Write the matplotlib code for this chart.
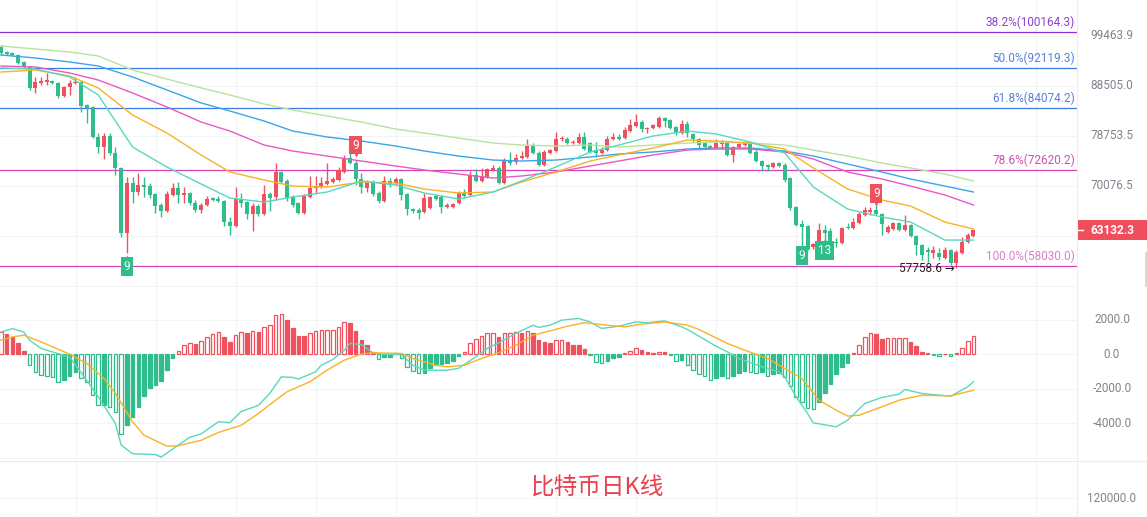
import numpy as np
import matplotlib.pyplot as plt
import matplotlib.ticker as mticker
from matplotlib.patches import Rectangle
from matplotlib.lines import Line2D
from matplotlib.transforms import blended_transform_factory, offset_copy

plt.rcParams['font.family'] = ['Roboto', 'DejaVu Sans']

# ---- daily candles, oldest first ----
opens = [96900, 95710, 95490, 95040, 93500, 92420, 88000, 89030, 89240, 89450,
         89030, 86370, 88200, 89030, 89240, 84570, 84180, 78490, 76680, 78670,
         75610, 73010, 62730, 70490, 69030, 70170, 70000, 68710, 66970, 66030,
         68550, 69680, 68550, 68870, 67280, 66190, 66970, 68070, 67910, 67590,
         64360, 63760, 67910, 67440, 65570, 66810, 65570, 68710, 68230, 72330,
         70820, 68230, 67280, 65730, 68230, 69680, 69840, 70330, 70660, 70990,
         72330, 74730, 73860, 71160, 69680, 70490, 68870, 67590, 70820, 70490,
         71160, 68710, 66340, 66190, 65880, 66500, 68390, 68230, 66650, 66650,
         67280, 68870, 68550, 71820, 70820, 71490, 72670, 73010, 70490, 74380,
         74030, 74730, 74910, 76850, 75610, 73520, 75610, 75960, 78120, 78120,
         77390, 77390, 78490, 77390, 76140, 75610, 76140, 78120, 78490, 78300,
         79590, 80530, 81280, 79960, 80150, 80340, 82040, 81660, 80340, 79220,
         80900, 79040, 78120, 77390, 76850, 76500, 77210, 77390, 75260, 76670,
         77030, 77390, 75790, 74210, 73520, 73180, 73860, 73520, 71320, 66650,
         64060, 63760, 60720, 60720, 63170, 63020, 61430, 61280, 63620, 63470,
         64210, 65420, 65880, 66190, 65570, 62880, 63320, 64210, 63170, 63910,
         62290, 61000, 60290, 59870, 59870, 59180, 60290, 58490, 59870, 61430,
         62290]
highs = [97280, 95930, 95710, 95260, 93720, 92630, 90290, 90290, 91130, 89650,
         89240, 88410, 89650, 90290, 89450, 84770, 84370, 79220, 79220, 79220,
         76680, 73180, 71490, 71490, 72160, 71490, 70490, 68870, 67280, 69190,
         70490, 70660, 69840, 69030, 67750, 67280, 68390, 68230, 68390, 67750,
         65120, 69840, 68870, 67590, 67280, 67120, 70170, 69030, 73860, 72500,
         71160, 68550, 67440, 68710, 71660, 71660, 71490, 73860, 71490, 73180,
         75260, 75790, 74380, 72160, 70990, 70990, 69190, 71660, 71320, 71490,
         71320, 68870, 66500, 66500, 68870, 68390, 68710, 68550, 67280, 67280,
         69190, 69510, 72500, 72830, 73010, 73010, 73520, 73350, 74730, 75790,
         75430, 75960, 78120, 77390, 75960, 76140, 76320, 79410, 78670, 78490,
         77940, 79220, 79410, 77570, 77570, 76670, 78670, 79220, 79040, 80340,
         81850, 82810, 81660, 80340, 80900, 82430, 82240, 81850, 80530, 81660,
         81470, 79220, 78300, 77570, 77030, 78120, 77940, 77570, 76850, 77390,
         77570, 77570, 76140, 74380, 73690, 74030, 74030, 73860, 71490, 66810,
         64660, 63910, 61280, 64210, 63910, 63460, 62000, 63620, 64210, 64960,
         65880, 66650, 66650, 66970, 65730, 63910, 64360, 64360, 65420, 64060,
         62440, 61140, 60720, 60860, 60570, 60720, 60430, 60290, 62150, 62730,
         63320]
lows = [95040, 95040, 94820, 93070, 92200, 87590, 86980, 88610, 88610, 88820,
        85970, 86170, 86570, 88820, 83200, 81090, 78300, 75610, 74560, 75260,
        71820, 62150, 59870, 67280, 68550, 68230, 68070, 65730, 65120, 65880,
        68390, 67280, 67280, 66970, 65880, 65730, 66810, 67590, 67440, 63760,
        62440, 63620, 66650, 64810, 63020, 65270, 65420, 66030, 67750, 70490,
        67590, 66650, 65570, 65570, 68070, 68870, 69680, 70170, 70490, 70820,
        72160, 73690, 70170, 68870, 69030, 68390, 67280, 67440, 69840, 70170,
        67750, 65420, 65730, 64810, 65730, 66340, 67750, 65730, 66500, 66500,
        67120, 68070, 68390, 70660, 70660, 71320, 72500, 70330, 70330, 73520,
        73690, 74560, 74730, 75430, 73350, 73350, 75430, 75790, 77760, 77210,
        77210, 77210, 76140, 75610, 74910, 75430, 75960, 77940, 77940, 78120,
        79410, 80340, 79410, 79220, 79960, 80150, 80340, 80000, 78850, 79040,
        78490, 77570, 76320, 76320, 76320, 76320, 76320, 75080, 74030, 76500,
        76850, 75430, 74030, 72500, 72500, 73010, 73180, 70660, 66190, 63760,
        60990, 60290, 60430, 60570, 61710, 61000, 60720, 61140, 63320, 63320,
        64060, 65270, 65420, 65420, 62440, 62730, 63170, 63020, 63020, 62150,
        59590, 58900, 58630, 59180, 58900, 59040, 58220, 57758.6, 59730, 61280,
        62150]
closes = [95420, 95260, 95040, 93280, 92420, 88000, 89240, 89450, 89650, 89030,
          86370, 88200, 89030, 89240, 84370, 83980, 78490, 76680, 78670, 75610,
          73010, 62730, 70490, 69030, 70170, 69840, 68550, 66810, 66030, 68710,
          69680, 68550, 68870, 67280, 66190, 66970, 67910, 67750, 67590, 64360,
          63760, 67910, 67280, 65570, 66810, 65570, 68710, 68070, 72330, 70660,
          68070, 66970, 65730, 68390, 69680, 70000, 70490, 70820, 71160, 72670,
          74730, 73860, 71160, 69840, 70490, 68710, 67590, 70820, 70170, 71160,
          68550, 66340, 66030, 65730, 68070, 68230, 67910, 66650, 66970, 67120,
          68870, 68390, 71820, 70820, 71660, 72840, 73010, 70490, 74380, 73860,
          74730, 75080, 76850, 75610, 73520, 75790, 76140, 78120, 78300, 77390,
          77570, 78490, 76320, 75790, 75610, 76140, 78120, 78490, 78120, 79780,
          80710, 81280, 79960, 80150, 80710, 82040, 81470, 80150, 79220, 80900,
          79220, 78120, 77030, 76670, 76500, 77390, 77390, 75260, 76670, 77210,
          77390, 75610, 74210, 73350, 73180, 73860, 73350, 70990, 66500, 63910,
          63620, 60430, 61140, 63170, 62730, 61430, 61280, 63470, 63470, 64360,
          65570, 66190, 66190, 65570, 64060, 63620, 64210, 63170, 63910, 62290,
          61000, 59590, 60010, 60290, 59320, 60290, 58490, 60010, 61430, 62440,
          63132.3]

ma_idx = [0, 6, 12, 17, 23, 29, 35, 40, 46, 51, 57, 63, 69, 74, 80, 86, 91, 97,
          103, 108, 114, 120, 125, 131, 137, 142, 148, 154, 159, 165, 170]
ma_teal = [92200, 91990, 90290, 86570, 76670, 73180, 70330, 68070, 67440, 68230,
           69030, 70820, 70170, 68870, 67910, 69030, 70820, 73180, 75790, 77030,
           78670, 79590, 79040, 77570, 75610, 69840, 66340, 65120, 64360, 61710, 61710]
ma_orange = [91340, 91770, 90500, 88000, 82620, 79220, 75260, 72330, 70990, 70000,
             69840, 70660, 70490, 69510, 68870, 69030, 70660, 72330, 74210, 75260,
             76500, 77940, 77760, 77390, 76320, 73010, 69510, 67750, 66810, 64360, 63320]
ma_pink = [92630, 92420, 91130, 89650, 86980, 84180, 81280, 79590, 77030, 75960,
           75080, 74210, 73350, 72670, 71990, 71320, 71660, 72330, 73350, 74210,
           75260, 76140, 76320, 76320, 75790, 74560, 72330, 71160, 70000, 68550, 66970]
ma_blue = [95040, 94380, 93500, 92630, 90290, 87590, 84970, 83400, 81470, 79590,
           78490, 77760, 76850, 75960, 75080, 74380, 74210, 74380, 74910, 75430,
           75790, 76320, 76500, 76500, 75960, 75080, 73690, 72330, 71160, 70000, 69030]
ma_lgreen = [97060, 96380, 95710, 94820, 91770, 89860, 88000, 86570, 84770, 83590,
             82430, 81280, 79960, 79220, 78300, 77390, 77030, 76850, 77030, 76670,
             77030, 77390, 77570, 77390, 77030, 76140, 75080, 73860, 73010, 71990, 70820]

# fibonacci levels
fib_labels = ['38.2%', '50.0%', '61.8%', '78.6%', '100.0%']
fib_prices = [100164.3, 92119.3, 84074.2, 72620.2, 58030.0]

price_ticks = [99463.9, 88505.0, 78753.5, 70076.5]
price_grid = price_ticks + [62355.5, 55485.0]

# MACD
macd_hist = [1300, 1180, 990, 680, 210, -620, -1000, -1200, -1260, -1330,
             -1600, -1490, -1220, -990, -1390, -1620, -2360, -2940, -2900, -3030,
             -3320, -4580, -4060, -3650, -3030, -2400, -1970, -1760, -1530, -910,
             -230, 190, 540, 640, 630, 770, 990, 1180, 1280, 1020,
             710, 1120, 1280, 1240, 1350, 1280, 1600, 1700, 2280, 2340,
             1990, 1510, 1080, 1070, 1260, 1370, 1400, 1410, 1420, 1570,
             1860, 1800, 1350, 830, 540, 150, -290, -170, -140, 60,
             -230, -710, -950, -1100, -1060, -810, -620, -560, -480, -390,
             -60, 120, 640, 870, 1060, 1260, 1270, 990, 1220, 1230,
             1280, 1260, 1370, 1220, 830, 700, 640, 830, 840, 700,
             540, 530, 290, -40, -430, -520, -390, -230, -170, 100,
             190, 350, 250, 120, 60, 150, 140, -40, -390, -330,
             -620, -910, -1140, -1260, -1450, -1390, -1260, -1390, -1260, -1100,
             -950, -1000, -1100, -1000, -1260, -1140, -1100, -1290, -1840, -2490,
             -2740, -3130, -3140, -2750, -2250, -1700, -1150, -750, -500, 100,
             540, 990, 1220, 1180, 920, 930, 940, 950, 960, 730,
             480, 150, 60, -40, -100, 20, -100, 100, 350, 770,
             1060]
dif_idx = [0, 2, 4, 5, 7, 12, 15, 17, 20, 21, 23, 27, 28, 31, 33, 35, 38, 40, 42, 45,
           47, 49, 51, 52, 55, 56, 58, 60, 61, 63, 65, 67, 70, 72, 74, 78, 80, 83, 85, 87,
           90, 93, 94, 96, 98, 101, 103, 105, 108, 111, 113, 116, 119, 120, 123, 125, 127,
           129, 133, 136, 137, 139, 141, 142, 146, 148, 151, 154, 157, 158, 161, 166, 169, 170]
dif_vals = [1300, 1500, 1300, 830, 350, -150, -1500, -2450, -4000, -5250,
            -5750, -5800, -5950, -5250, -4800, -4600, -3900, -3950, -3300, -2950,
            -2250, -1300, -1330, -1420, -1000, -620, -290, 250, 640, 580,
            100, 0, 0, -620, -910, -910, -800, -130, 350, 680,
            1220, 1700, 1570, 1700, 1990, 2090, 1890, 1510, 1640, 1890,
            1840, 1950, 1600, 1450, 870, 480, 150, -230, -710, -1000,
            -1290, -2450, -3420, -3960, -4190, -3810, -2840, -2490, -2300, -2030,
            -2260, -2420, -1870, -1580]
dea_idx = [0, 2, 4, 7, 12, 15, 18, 20, 23, 25, 29, 31, 35, 38, 42, 45, 48, 50, 54, 57,
           60, 63, 65, 70, 72, 76, 78, 81, 84, 87, 90, 93, 96, 99, 102, 106, 109, 112,
           116, 120, 122, 127, 130, 134, 137, 140, 143, 146, 148, 150, 154, 157, 161, 166, 170]
dea_vals = [830, 1020, 1120, 730, 20, -520, -1390, -2260, -3900, -4680,
            -5310, -5290, -4970, -4520, -4100, -3420, -2650, -2160, -1580, -910,
            -330, 20, 100, 60, -230, -620, -720, -620, -230, 100,
            540, 1120, 1370, 1640, 1840, 1700, 1600, 1760, 1890, 1700,
            1450, 640, 250, -230, -810, -1390, -2650, -3230, -3570, -3520,
            -3030, -2650, -2360, -2400, -2070]
macd_ticks = [2000, 0, -2000, -4000]
macd_grid = macd_ticks + [-6000]
vol_ticks = [120000]

# TD sequential count markers
td_idx = [62, 153, 22, 140, 144]
td_text = ['9', '9', '9', '9', '13']
td_above = [True, True, False, False, False]
td_off = [10.8, 8.0, -10.0, -7.6, -7.2]   # points

title = '比特币日K线'

# ---- figure layout (pixel based) ----
W, H = 1147, 517
fig = plt.figure(figsize=(W / 100, H / 100), dpi=100)


def px_axes(x0, y0, x1, y1):
    return fig.add_axes([x0 / W, 1 - y1 / H, (x1 - x0) / W, (y1 - y0) / H])


ax = px_axes(0, 0, 1077, 300)
axm = px_axes(0, 300, 1077, 460)
axb = px_axes(0, 461, 1077, 517)

RED = '#f0515e'
GREEN = '#2ebd8b'
GRID = '#f3f4f6'
LABEL = '#7f858c'
xlim = (-0.175, 188.1)
vgrid = np.arange(13.1, 188, 13.99)

for a in (ax, axm, axb):
    a.set_xlim(*xlim)
    for s in a.spines.values():
        s.set_visible(False)
    a.set_xticks(vgrid)
    a.tick_params(length=0, labelleft=False, labelbottom=False)
    a.grid(True, color=GRID, lw=0.8)
    a.set_axisbelow(True)

# ---- main candle pane ----
o = np.array(opens)
h = np.array(highs)
l = np.array(lows)
c = np.array(closes)
x = np.arange(len(c))
cols = np.where(c >= o, RED, GREEN)

ax.set_yscale('log')
ax.set_ylim(53655, 108055)
ax.set_yticks(price_grid)
ax.yaxis.set_minor_locator(mticker.NullLocator())
ax.tick_params(which='both', length=0, labelleft=False, labelbottom=False)

fib_line_cols = ['#8e2fd6', '#3b7be0', '#3b7be0', '#d642b6', '#d642b6']
fib_text_cols = ['#8f3fd0', '#5c7fdc', '#5c7fdc', '#d34fb6', '#e07bd0']
for lab, p, lc, tc in zip(fib_labels, fib_prices, fib_line_cols, fib_text_cols):
    ax.axhline(p, color=lc, lw=0.9, zorder=2)
    ax.annotate(f'{lab}({p:.1f})', (1, p), xycoords=('axes fraction', 'data'),
                xytext=(-1.5, 7), textcoords='offset points', ha='right', va='center',
                fontsize=8.5, color=tc)

ax.vlines(x, l, h, colors=cols, lw=1, zorder=3)
ax.bar(x, np.abs(c - o), bottom=np.minimum(o, c), width=0.7, color=cols, lw=0, zorder=3)

for vals, col in [(ma_lgreen, '#b7e39d'), (ma_blue, '#3aa6e8'), (ma_pink, '#ea58c4'),
                  (ma_orange, '#fbb124'), (ma_teal, '#57d8c0')]:
    ax.plot(ma_idx, vals, color=col, lw=1.0, zorder=4)

for i, t, up, off in zip(td_idx, td_text, td_above, td_off):
    col = RED if up else GREEN
    ref = h[i] if up else l[i]
    ax.annotate(t, (i, ref), xytext=(0, off), textcoords='offset points',
                ha='center', va='center', fontsize=8.5, color='white',
                bbox=dict(boxstyle='square,pad=0.25', fc=col, ec='none'), zorder=6)
    tr = offset_copy(ax.transData, fig=fig, x=0, y=off + (-6.5 if up else 6.5), units='points')
    ax.plot([i], [ref], marker='v' if up else '^', ms=5, color=col, mec='none',
            transform=tr, zorder=6)

li = int(np.argmin(l))
ax.annotate(f'{l[li]:.1f} →', (li, l[li]), xytext=(-1, 0), textcoords='offset points',
            ha='right', va='center', fontsize=8.5, color='#222222', zorder=6)

tmain = blended_transform_factory(fig.transFigure, ax.transData)
for v in price_ticks:
    ax.text(1112 / W, v, f'{v:.1f}', transform=tmain, ha='center', va='center',
            fontsize=8.5, color=LABEL, clip_on=False)

# ---- MACD pane ----
hist = np.array(macd_hist, dtype=float)
prev = np.r_[0, hist[:-1]]
hollow = (np.abs(hist) > np.abs(prev)) | (np.sign(hist) != np.sign(prev))
hcol = np.where(hist >= 0, RED, GREEN)
face = np.where(hollow, 'white', hcol)
axm.set_ylim(-6116, 3159)
axm.set_yticks(macd_grid)
axm.bar(x, hist, width=0.62, color=face, edgecolor=hcol, linewidth=0.9, zorder=3)
axm.plot(dif_idx, dif_vals, color='#57d8c0', lw=1.0, zorder=4)
axm.plot(dea_idx, dea_vals, color='#fbb124', lw=1.0, zorder=4)
tm = blended_transform_factory(fig.transFigure, axm.transData)
for v in macd_ticks:
    axm.text(1112 / W, v, f'{v:.1f}', transform=tm, ha='center', va='center',
             fontsize=8.5, color=LABEL, clip_on=False)

# ---- bottom pane ----
axb.set_ylim(0, 354000)
axb.set_yticks(vol_ticks)
tb = blended_transform_factory(fig.transFigure, axb.transData)
for v in vol_ticks:
    axb.text(1112 / W, v, f'{v:.1f}', transform=tb, ha='center', va='center',
             fontsize=8.5, color=LABEL, clip_on=False)

# separators
fig.add_artist(Line2D([0, 1], [1 - 461 / H] * 2, transform=fig.transFigure, color='#ebebeb', lw=0.8))
fig.add_artist(Line2D([1077 / W] * 2, [0, 1], transform=fig.transFigure, color='#eeeeee', lw=0.8))
fig.add_artist(Rectangle((1145 / W, 1 - 287 / H), 2 / W, 35 / H, transform=fig.transFigure,
                         color='#d9d9d9', lw=0))

# last price tag
yp = ax.transData.transform((0, c[-1]))[1]
fig.add_artist(Rectangle((1077 / W, (yp - 10) / H), 70 / W, 20 / H, transform=fig.transFigure,
                         color='#f04e5c', lw=0))
fig.add_artist(Line2D([1078 / W, 1083 / W], [yp / H] * 2, transform=fig.transFigure,
                      color='white', lw=1))
fig.text(1112 / W, yp / H, f'{c[-1]:.1f}', color='white', ha='center', va='center',
         fontsize=8.5, fontweight='bold')

fig.text(598 / W, 1 - 488 / H, title, color='#e8414f', fontsize=17,
         family=['Noto Sans CJK SC', 'DejaVu Sans'], ha='center', va='center')

fig.savefig('out.png', dpi=100)
